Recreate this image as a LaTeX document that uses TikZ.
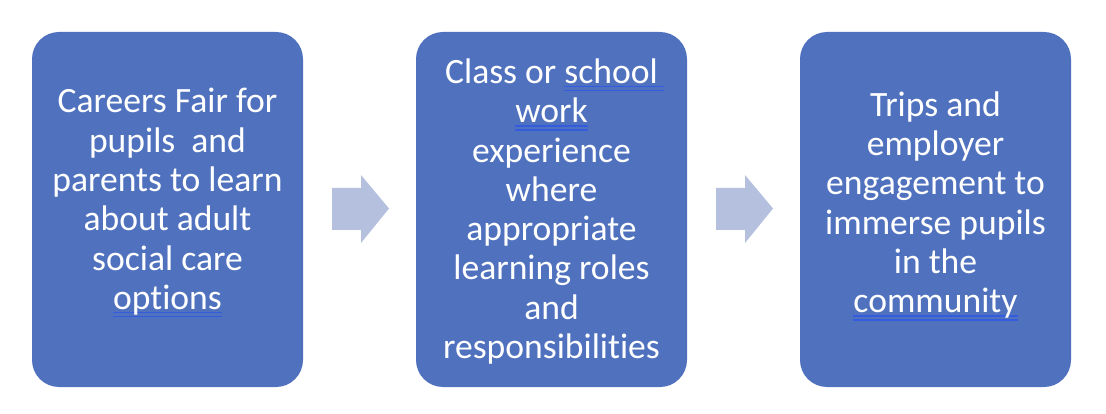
\documentclass[tikz,border=0pt]{standalone}
\usepackage{fontspec}
\setmainfont[Ligatures=NoCommon]{Carlito}
\definecolor{boxblue}{RGB}{80,114,190}
\definecolor{arrowblue}{RGB}{180,192,222}
\definecolor{ulblue}{RGB}{52,92,222}
\newcommand\dblul[2][0pt]{\setbox0\hbox{#2}\leavevmode\rlap{\color{ulblue}\rule[-4pt]{\dimexpr\wd0+#1\relax}{1.4pt}\llap{\rule[-8pt]{\dimexpr\wd0+#1\relax}{1.4pt}}}\box0}
\tikzset{
  stagebox/.style={fill=boxblue, draw=none, rounded corners=27pt},
  stagetext/.style={text=white, align=center, inner sep=0pt, font=\fontsize{35.6}{39.3}\selectfont},
  blockarrow/.style={fill=arrowblue, draw=none}
}
\begin{document}
\begin{tikzpicture}[x=1pt,y=-1pt]
\useasboundingbox (0,0) rectangle (1106,414);
% boxes
\path[stagebox] (32,32) rectangle (303,387);
\path[stagebox] (416,32) rectangle (687,387);
\path[stagebox] (800,32) rectangle (1071,387);
\node[stagetext] (t1) at (167.5,203) {Careers Fair for\\pupils\ \ and\\parents\ to learn\\about adult\\social care\\\dblul{options}};
\node[stagetext] (t2) at (551.5,211.5) {Class or \dblul[6pt]{school}\\\dblul{work}\\experience\\where\\appropriate\\learning roles\\and\\responsibilities};
\node[stagetext] (t3) at (935.5,206) {Trips and\\employer\\engagement to\\immerse pupils\\in the\\\dblul{community}};
% arrows
\path[blockarrow] (332,188) -- (361,188) -- (361,175) -- (389,208.5) -- (361,243) -- (361,230) -- (332,230) -- cycle;
\path[blockarrow] (716,188) -- (745,188) -- (745,175) -- (773,208.5) -- (745,243) -- (745,230) -- (716,230) -- cycle;
\end{tikzpicture}
\end{document}
